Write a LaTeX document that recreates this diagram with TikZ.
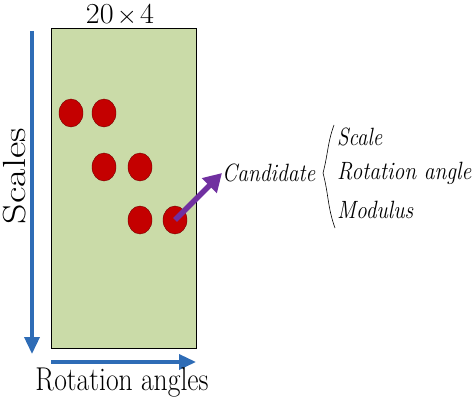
\documentclass[tikz,border=0pt]{standalone}
\usepackage{tikz}
\usetikzlibrary{arrows.meta,positioning}
\definecolor{cellgreen}{RGB}{202,219,168}
\definecolor{axisblue}{RGB}{46,108,182}
\definecolor{dotred}{RGB}{196,0,0}
\definecolor{dotedge}{RGB}{120,0,0}
\definecolor{candpurple}{RGB}{112,48,160}
\newcommand{\fitw}[2]{\resizebox{#1}{\height}{#2}}
\tikzset{
cell/.style={draw=black, thick, fill=cellgreen},
peak/.style={ellipse, draw=dotedge, fill=dotred, minimum width=24pt, minimum height=28pt, inner sep=0pt},
axis/.style={line width=3.5pt, draw=axisblue, -{Triangle[length=17pt,width=15pt]}},
pick/.style={line width=5.5pt, draw=candpurple, -{Triangle[length=18pt,width=20pt]}},
lbl/.style={inner sep=0pt, font=\fontsize{33pt}{35pt}\selectfont},
item/.style={inner sep=0pt, anchor=west, font=\fontsize{25pt}{27pt}\selectfont\itshape}
      }
\usetikzlibrary{shapes.geometric}
\begin{document}
\begin{tikzpicture}[x=1pt,y=-1pt]
                \useasboundingbox (0,0) rectangle (474,401);
                \draw[cell] (51,28) rectangle (196,348);
                \node[lbl] (size) at (120,15) {\fitw{68pt}{\fontsize{29pt}{31pt}\selectfont 20\hspace{3pt}$\times$\hspace{3pt}4}};
                % axes
                \coordinate (vtop) at (32,31);
                \coordinate (vbot) at (32,354);
                \coordinate (hleft) at (51,362);
                \coordinate (hright) at (196,362);
                \draw[axis] (vtop) -- (vbot);
                \draw[axis] (hleft) -- (hright);
                \node[lbl, rotate=90] (scales) at (15,176) {\fitw{96pt}{\fontsize{32pt}{34pt}\selectfont Scales}};
                \node[lbl] (angles) at (122,382) {\fitw{173pt}{Rotation angles}};
                % peaks
                \node[peak] (p1) at (71,113) {};
                \node[peak] (p2) at (104,113) {};
                \node[peak] (p3) at (104,167) {};
                \node[peak] (p4) at (140,167) {};
                \node[peak] (p5) at (140,220) {};
                \node[peak] (p6) at (175,220) {};
                % candidate
                \node[item] (cand) at (222,173) {\fitw{93pt}{Candidate}};
                \draw[pick] (p6.center) -- (cand.west);
                \draw[semithick] (334,125) to[out=250,in=75] (323,173) to[out=-75,in=110] (335,228);
                \node[item] (scale) at (337,137) {\fitw{45pt}{Scale}};
                \node[item] (rot) at (337,173) {\fitw{134pt}{Rotation angle}};
                \node[item] (mod) at (337,210) {\fitw{76pt}{Modulus}};
            \end{tikzpicture}
\end{document}
